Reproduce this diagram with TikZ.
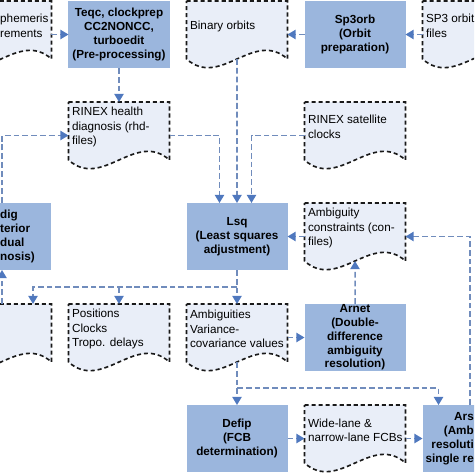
\documentclass[tikz,border=0pt]{standalone}
\usepackage{fontspec}
\setmainfont{Liberation Sans}
\usepackage{xcolor}
\usepackage{tikz}
\usetikzlibrary{positioning,calc,arrows.meta}

\definecolor{boxblue}{RGB}{155,182,221}
\definecolor{filefill}{RGB}{233,238,248}
\definecolor{linkgray}{RGB}{112,140,188}
\definecolor{tipblue}{RGB}{79,120,190}

% data file: empty body node, wavy outline, text on top
\newcommand{\datafile}[3]{%
  \node[filebody, #2] (#1) {};
  \draw[fileline] (#1.north west) -- (#1.north east) -- ($(#1.south east)+(0,-9)$)
    .. controls +(-33.7,-30) and +(33.7,30) .. ($(#1.south west)+(0,-9)$) -- cycle;
  \coordinate (#1 wave) at ($(#1.south)+(0,-9)$);
  \node[filetext, anchor=west] (#1 txt) at ($(#1.west)+(1,-8.5)$) {#3};}

\begin{document}
\begin{tikzpicture}[x=0.03cm, y=-0.03cm]
    \useasboundingbox (0,0) rectangle (474,474);
    \clip (0,0) rectangle (474,474);

    % Styles
    \tikzstyle{program} = [rectangle, fill=boxblue, minimum width=3.03cm, minimum height=2.01cm, outer sep=0pt, inner ysep=0pt, align=center, font=\bfseries\fontsize{10}{11.8}\selectfont]
    \tikzstyle{cut text} = [inner sep=0pt, font=\bfseries\fontsize{10}{11.8}\selectfont]
    \tikzstyle{filebody} = [rectangle, minimum width=3.03cm, minimum height=2.01cm, outer sep=0pt, inner sep=0pt]
    \tikzstyle{fileline} = [draw=black!90, fill=filefill, line width=1.4pt, dash pattern=on 3.5pt off 2.5pt]
    \tikzstyle{filetext} = [align=left, inner sep=2pt, font=\fontsize{10}{12.3}\selectfont]
    \tikzstyle{link} = [draw=linkgray, line width=1.3pt, dash pattern=on 5pt off 2.5pt, -{Triangle[length=7pt, width=8pt, color=tipblue]}]

    % Programs
    \node [program] (teqc) at (119,34.5) {Teqc, clockprep\\CC2NONCC,\\turboedit\\(Pre-processing)};
    \node [program, right=4.05cm of teqc] (sp3orb) {Sp3orb\\(Orbit\\preparation)};
    \node [program, below=4.05cm of teqc, xshift=3.54cm] (lsq) {Lsq\\(Least squares\\adjustment)};
    \node [program, left=4.05cm of lsq] (redig) {};
    \node [program, below=1.02cm of lsq, xshift=3.54cm] (arnet) {Arnet\\(Double-\\difference\\ambiguity\\resolution)};
    \node [program, below=4.05cm of lsq] (defip) {Defip\\(FCB\\determination)};
    \node [program, right=4.05cm of defip] (arsig) {};

    % Files
    \datafile{eph}{left=0.51cm of teqc}{}
    \datafile{binorb}{right=0.51cm of teqc}{Binary orbits}
    \datafile{sp3}{right=0.51cm of sp3orb}{SP3 orbit\\files}
    \datafile{rhd}{below=1.02cm of teqc}{RINEX health\\diagnosis (rhd-\\files)}
    \datafile{clk}{below=1.02cm of sp3orb}{RINEX satellite\\clocks}
    \datafile{con}{right=0.51cm of lsq}{Ambiguity\\constraints (con-\\files)}
    \datafile{res}{below=1.02cm of redig}{}
    \datafile{pos}{right=0.51cm of res}{Positions\\Clocks\\Tropo. delays}
    \datafile{amb}{below=1.02cm of lsq}{Ambiguities\\Variance-\\covariance values}
    \datafile{fcb}{right=0.51cm of defip}{Wide-lane \&\\narrow-lane FCBs}

    % Texts cut by the border
    \node [filetext, inner sep=0pt, anchor=west] (eph txt) at ($(eph.center)+(-1,-8.5)$) {phemeris\\rements};
    \node [cut text, align=left, anchor=west] (redig txt) at ($(redig.center)+(-1,0)$) {dig\\terior\\dual\\nosis)};
    \node [cut text, align=right, anchor=east] (arsig txt) at ($(arsig.center)+(1,0)$) {Ars\\(Amb\\resoluti\\single re};

    % Connections
    \draw [link] (eph.east) -- (teqc.west);
    \draw [link] (teqc.south) -- (rhd.north);
    \draw [link] (sp3orb.west) -- (binorb.east);
    \draw [link] (sp3.west) -- (sp3orb.east);
    \draw [link] (rhd.east) -| ($(lsq.north)+(-17.5,0)$);
    \draw [link] (binorb wave) -- (lsq.north);
    \draw [link] (clk.west) -| ($(lsq.north)+(14.5,0)$);
    \draw [link] ($(redig.north)+(1,0)$) |- (rhd.west);
    \coordinate (lsq split) at ($(lsq.south)!0.5!(amb.north)$);
    \draw [link] (lsq.south) -- (amb.north);
    \draw [link] (lsq split) -| ($(res.north)+(32,0)$);
    \draw [link] (lsq split -| pos.north) -- (pos.north);
    \draw [link] ($(res.north)+(1,0)$) -- ($(redig.south)+(1,0)$);
    \draw [link] (amb.east) -- (arnet.west);
    \draw [link] (arnet.north) -- (con wave);
    \draw [link] (con.west) -- (lsq.east);
    \coordinate (amb split) at ($(amb.south)!0.5!(defip.north)$);
    \draw [link] (amb wave) -- (defip.north);
    \draw [link] (amb split) -| ($(arsig.north)+(-34.5,0)$);
    \draw [link] (defip.east) -- (fcb.west);
    \draw [link] (fcb.east) -- (arsig.west);
    \draw [link] ($(arsig.north)+(-3,0)$) |- (con.east);
\end{tikzpicture}
\end{document}
